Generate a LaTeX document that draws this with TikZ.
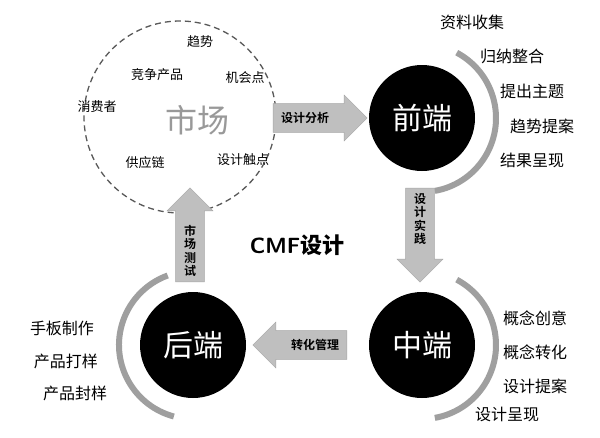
\documentclass[tikz,border=0pt]{standalone}
\usepackage{fontspec}
\newfontfamily\cjk{Noto Sans CJK SC}
\newfontfamily\cjkb{Noto Sans CJK SC Bold}
\usetikzlibrary{shapes.arrows}
\begin{document}
\begin{tikzpicture}[x=1pt,y=-1pt,
  blk/.style={circle,fill=black,minimum size=106pt,text=white,font=\cjk\fontsize{30}{30}\selectfont},
  lbl/.style={font=\cjk\fontsize{16}{18}\selectfont},
  mk/.style={font=\cjk\fontsize{13}{15}\selectfont},
  arc/.style={line width=6pt,draw=gray!75},
  barr/.style={single arrow,fill=gray!50,draw=gray!70,minimum width=46pt,single arrow head extend=8pt,inner sep=13pt},
  atxt/.style={font=\cjkb\fontsize{12}{13.5}\selectfont,text=black}]
\useasboundingbox (0,0) rectangle (600,437);
\fill[white] (0,0) rectangle (600,437);
\node[circle,draw=gray!70!black,dash pattern=on 6pt off 4pt,line width=1.3pt,minimum size=192pt] (mkt) at (180,117) {};
\node[mk] (t1) at (200,42) {趋势};
\node[mk] (t2) at (157,75) {竞争产品};
\node[mk] (t3) at (245,78) {机会点};
\node[mk] (t4) at (97,107) {消费者};
\node[font=\cjk\fontsize{32}{32}\selectfont,text=gray!80] (t5) at (197,120) {市场};
\node[mk] (t6) at (145,163) {供应链};
\node[mk] (t7) at (243,160) {设计触点};
\node[blk] (q) at (422,118) {前端};
\node[blk] (z) at (422,345) {中端};
\node[blk] (h) at (193,345) {后端};
\draw[arc] (q.center) ++(80:74) arc[start angle=80,end angle=-62,radius=74];
\draw[arc] (z.center) ++(80:74) arc[start angle=80,end angle=-62,radius=74];
\draw[arc] (h.center) ++(105:74) arc[start angle=105,end angle=250,radius=74];
\node[lbl] (a1) at (472,22) {资料收集};
\node[lbl] (a2) at (512,56) {归纳整合};
\node[lbl] (a3) at (532,91) {提出主题};
\node[lbl] (a4) at (542,126) {趋势提案};
\node[lbl] (a5) at (532,160) {结果呈现};
\node[lbl] (b1) at (535,318) {概念创意};
\node[lbl] (b2) at (535,352) {概念转化};
\node[lbl] (b3) at (535,386) {设计提案};
\node[lbl] (b4) at (507,414) {设计呈现};
\node[lbl] (c1) at (62,328) {手板制作};
\node[lbl] (c2) at (66,361) {产品打样};
\node[lbl] (c3) at (75,393) {产品封样};
\node[barr,minimum height=94pt] (ar1) at (313,118) {};
\node[atxt] (l1) at (305,118) {设计分析};
\node[barr,minimum height=94pt,shape border rotate=270] (ar2) at (420,228) {};
\node[atxt,align=center] (l2) at (420,219) {设\\计\\实\\践};
\node[barr,minimum height=94pt,shape border rotate=180] (ar3) at (307,345) {};
\node[atxt] (l3) at (315,345) {转化管理};
\node[barr,minimum height=94pt,shape border rotate=90] (ar4) at (190,242) {};
\node[atxt,align=center] (l4) at (190,251) {市\\场\\测\\试};
\node[font=\sffamily\bfseries\fontsize{22}{22}\selectfont] (cmf) at (297,245) {CMF{\cjkb 设计}};
\end{tikzpicture}
\end{document}
